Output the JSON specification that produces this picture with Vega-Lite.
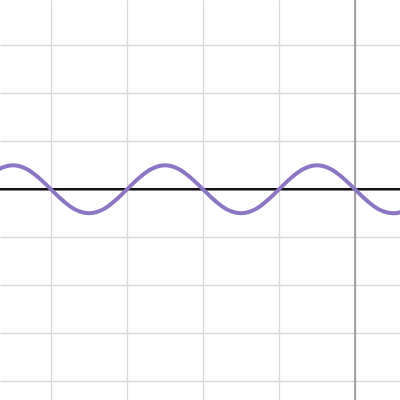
{
  "$schema": "https://vega.github.io/schema/vega-lite/v6.json",
  "width": 400,
  "height": 400,
  "autosize": {"type": "none"},
  "padding": 0,
  "background": "white",
  "config": {"view": {"stroke": null}},
  "datasets": {
    "curve": [
      {"x": -4.875, "y": 0.1913}, {"x": -4.75, "y": 0.3536}, {"x": -4.625, "y": 0.4619}, {"x": -4.5, "y": 0.5},
      {"x": -4.375, "y": 0.4619}, {"x": -4.25, "y": 0.3536}, {"x": -4.125, "y": 0.1913}, {"x": -4.0, "y": 0},
      {"x": -3.875, "y": -0.1913}, {"x": -3.75, "y": -0.3536}, {"x": -3.625, "y": -0.4619}, {"x": -3.5, "y": -0.5},
      {"x": -3.375, "y": -0.4619}, {"x": -3.25, "y": -0.3536}, {"x": -3.125, "y": -0.1913}, {"x": -3.0, "y": 0},
      {"x": -2.875, "y": 0.1913}, {"x": -2.75, "y": 0.3536}, {"x": -2.625, "y": 0.4619}, {"x": -2.5, "y": 0.5},
      {"x": -2.375, "y": 0.4619}, {"x": -2.25, "y": 0.3536}, {"x": -2.125, "y": 0.1913}, {"x": -2.0, "y": 0},
      {"x": -1.875, "y": -0.1913}, {"x": -1.75, "y": -0.3536}, {"x": -1.625, "y": -0.4619}, {"x": -1.5, "y": -0.5},
      {"x": -1.375, "y": -0.4619}, {"x": -1.25, "y": -0.3536}, {"x": -1.125, "y": -0.1913}, {"x": -1.0, "y": 0},
      {"x": -0.875, "y": 0.1913}, {"x": -0.75, "y": 0.3536}, {"x": -0.625, "y": 0.4619}, {"x": -0.5, "y": 0.5},
      {"x": -0.375, "y": 0.4619}, {"x": -0.25, "y": 0.3536}, {"x": -0.125, "y": 0.1913}, {"x": 0.0, "y": 0},
      {"x": 0.125, "y": -0.1913}, {"x": 0.25, "y": -0.3536}, {"x": 0.375, "y": -0.4619}, {"x": 0.5, "y": -0.5},
      {"x": 0.625, "y": -0.4619}, {"x": 0.75, "y": -0.3536}
    ],
    "axes": [{"zero": 0}]
  },
  "layer": [
    {
      "data": {"name": "axes"},
      "mark": {"type": "rule", "color": "#8a8a8a", "strokeWidth": 1.5},
      "encoding": {
        "x": {
          "field": "zero",
          "type": "quantitative",
          "scale": {"domain": [-4.671, 0.592], "nice": false, "zero": false},
          "axis": {
            "values": [-4, -3, -2, -1, 0],
            "grid": true, "gridColor": "#d8d8d8", "gridWidth": 1.3,
            "domain": false, "ticks": false, "labels": false, "title": null
          }
        }
      }
    },
    {
      "data": {"name": "axes"},
      "mark": {"type": "rule", "color": "#111111", "strokeWidth": 2.5},
      "encoding": {
        "y": {
          "field": "zero",
          "type": "quantitative",
          "scale": {"domain": [-4.39, 3.944], "nice": false, "zero": false},
          "axis": {
            "values": [-4, -3, -2, -1, 0, 1, 2, 3],
            "grid": true, "gridColor": "#d8d8d8", "gridWidth": 1.3,
            "domain": false, "ticks": false, "labels": false, "title": null
          }
        }
      }
    },
    {
      "data": {"name": "curve"},
      "mark": {"type": "line", "color": "#8c76c3", "strokeWidth": 4, "interpolate": "natural", "clip": true},
      "encoding": {
        "x": {"field": "x", "type": "quantitative"},
        "y": {"field": "y", "type": "quantitative"}
      }
    }
  ]
}
